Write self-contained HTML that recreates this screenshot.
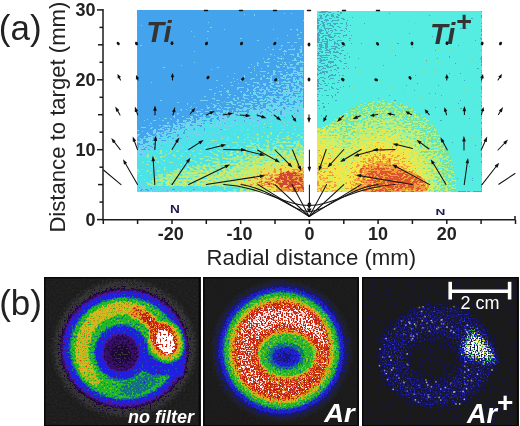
<!DOCTYPE html>
<html><head><meta charset="utf-8"><title>figure</title>
<style>html,body{margin:0;padding:0;background:#fff;} body{width:520px;height:426px;overflow:hidden;} svg{display:block}</style>
</head><body>
<svg width="520" height="426" viewBox="0 0 520 426">
<defs><filter id="fa" filterUnits="userSpaceOnUse" x="137" y="10.5" width="166.3" height="180.7" color-interpolation-filters="sRGB">
<feTurbulence type="fractalNoise" baseFrequency="0.3 0.55" numOctaves="1" seed="3" result="nz"/>
<feColorMatrix in="nz" type="matrix" values="1 0 0 0 0 1 0 0 0 0 1 0 0 0 0 0 0 0 0 1" result="n1"/>
<feComposite in="SourceGraphic" in2="n1" operator="arithmetic" k1="0.000" k2="1.000" k3="0.613" k4="-0.307" result="sum"/>
<feComponentTransfer in="sum"><feFuncR type="discrete" tableValues="0.267 0.267 0.267 0.267 0.267 0.267 0.267 0.267 0.267 0.267 0.267 0.267 0.267 0.267 0.267 0.267 0.267 0.267 0.267 0.267 0.463 0.463 0.463 0.463 0.463 0.463 0.463 0.463 0.463 0.463 0.298 0.298 0.298 0.298 0.298 0.298 0.298 0.298 0.298 0.298 0.298 0.298 0.298 0.298 0.298 0.298 0.298 0.298 0.298 0.298 0.588 0.588 0.588 0.588 0.588 0.588 0.588 0.588 0.588 0.588 0.804 0.804 0.804 0.804 0.804 0.804 0.804 0.804 0.804 0.804 0.949 0.949 0.949 0.949 0.949 0.949 0.949 0.949 0.949 0.949 0.925 0.925 0.925 0.925 0.925 0.925 0.925 0.925 0.925 0.925 0.816 0.816 0.816 0.816 0.816 0.816 0.816 0.816 0.816 0.816"/><feFuncG type="discrete" tableValues="0.643 0.643 0.643 0.643 0.643 0.643 0.643 0.643 0.643 0.643 0.643 0.643 0.643 0.643 0.643 0.643 0.643 0.643 0.643 0.643 0.831 0.831 0.831 0.831 0.831 0.831 0.831 0.831 0.831 0.831 0.894 0.894 0.894 0.894 0.894 0.894 0.894 0.894 0.894 0.894 0.894 0.894 0.894 0.894 0.894 0.894 0.894 0.894 0.894 0.894 0.933 0.933 0.933 0.933 0.933 0.933 0.933 0.933 0.933 0.933 0.925 0.925 0.925 0.925 0.925 0.925 0.925 0.925 0.925 0.925 0.871 0.871 0.871 0.871 0.871 0.871 0.871 0.871 0.871 0.871 0.596 0.596 0.596 0.596 0.596 0.596 0.596 0.596 0.596 0.596 0.282 0.282 0.282 0.282 0.282 0.282 0.282 0.282 0.282 0.282"/><feFuncB type="discrete" tableValues="0.933 0.933 0.933 0.933 0.933 0.933 0.933 0.933 0.933 0.933 0.933 0.933 0.933 0.933 0.933 0.933 0.933 0.933 0.933 0.933 0.941 0.941 0.941 0.941 0.941 0.941 0.941 0.941 0.941 0.941 0.910 0.910 0.910 0.910 0.910 0.910 0.910 0.910 0.910 0.910 0.910 0.910 0.910 0.910 0.910 0.910 0.910 0.910 0.910 0.910 0.647 0.647 0.647 0.647 0.647 0.647 0.647 0.647 0.647 0.647 0.412 0.412 0.412 0.412 0.412 0.412 0.412 0.412 0.412 0.412 0.306 0.306 0.306 0.306 0.306 0.306 0.306 0.306 0.306 0.306 0.235 0.235 0.235 0.235 0.235 0.235 0.235 0.235 0.235 0.235 0.216 0.216 0.216 0.216 0.216 0.216 0.216 0.216 0.216 0.216"/><feFuncA type="linear" slope="0" intercept="1"/></feComponentTransfer>
<feGaussianBlur stdDeviation="0.35"/>
</filter><filter id="fb" filterUnits="userSpaceOnUse" x="317.2" y="11" width="164.5" height="180.2" color-interpolation-filters="sRGB">
<feTurbulence type="fractalNoise" baseFrequency="0.35 0.6" numOctaves="1" seed="5" result="nz"/>
<feColorMatrix in="nz" type="matrix" values="1 0 0 0 0 1 0 0 0 0 1 0 0 0 0 0 0 0 0 1" result="n1"/>
<feComposite in="SourceGraphic" in2="n1" operator="arithmetic" k1="0.000" k2="1.000" k3="0.472" k4="-0.236" result="sum"/>
<feComponentTransfer in="sum"><feFuncR type="discrete" tableValues="0.267 0.267 0.267 0.267 0.267 0.267 0.267 0.267 0.267 0.267 0.267 0.267 0.267 0.267 0.267 0.267 0.267 0.267 0.275 0.275 0.275 0.275 0.275 0.275 0.275 0.275 0.275 0.275 0.337 0.337 0.337 0.337 0.337 0.337 0.337 0.337 0.337 0.337 0.337 0.337 0.337 0.337 0.337 0.337 0.337 0.337 0.337 0.337 0.337 0.337 0.337 0.337 0.490 0.490 0.490 0.490 0.667 0.667 0.667 0.667 0.667 0.667 0.667 0.824 0.824 0.824 0.824 0.824 0.824 0.824 0.961 0.961 0.961 0.961 0.961 0.961 0.961 0.961 0.961 0.961 0.941 0.941 0.941 0.941 0.941 0.941 0.941 0.941 0.941 0.941 0.871 0.871 0.871 0.871 0.871 0.871 0.871 0.871 0.871 0.871"/><feFuncG type="discrete" tableValues="0.643 0.643 0.643 0.643 0.643 0.643 0.643 0.643 0.643 0.643 0.643 0.643 0.643 0.643 0.643 0.643 0.643 0.643 0.659 0.659 0.659 0.659 0.659 0.659 0.659 0.659 0.659 0.659 0.929 0.929 0.929 0.929 0.929 0.929 0.929 0.929 0.929 0.929 0.929 0.929 0.929 0.929 0.929 0.929 0.929 0.929 0.929 0.929 0.929 0.929 0.929 0.929 0.871 0.871 0.871 0.871 0.941 0.941 0.941 0.941 0.941 0.941 0.941 0.941 0.941 0.941 0.941 0.941 0.941 0.941 0.902 0.902 0.902 0.902 0.902 0.902 0.902 0.902 0.902 0.902 0.627 0.627 0.627 0.627 0.627 0.627 0.627 0.627 0.627 0.627 0.333 0.333 0.333 0.333 0.333 0.333 0.333 0.333 0.333 0.333"/><feFuncB type="discrete" tableValues="0.933 0.933 0.933 0.933 0.933 0.933 0.933 0.933 0.933 0.933 0.933 0.933 0.933 0.933 0.933 0.933 0.933 0.933 0.765 0.765 0.765 0.765 0.765 0.765 0.765 0.765 0.765 0.765 0.886 0.886 0.886 0.886 0.886 0.886 0.886 0.886 0.886 0.886 0.886 0.886 0.886 0.886 0.886 0.886 0.886 0.886 0.886 0.886 0.886 0.886 0.886 0.886 0.529 0.529 0.529 0.529 0.549 0.549 0.549 0.549 0.549 0.549 0.549 0.392 0.392 0.392 0.392 0.392 0.392 0.392 0.275 0.275 0.275 0.275 0.275 0.275 0.275 0.275 0.275 0.275 0.227 0.227 0.227 0.227 0.227 0.227 0.227 0.227 0.227 0.227 0.188 0.188 0.188 0.188 0.188 0.188 0.188 0.188 0.188 0.188"/><feFuncA type="linear" slope="0" intercept="1"/></feComponentTransfer>
<feGaussianBlur stdDeviation="0.3"/>
</filter><radialGradient id="gL1" cx="50%" cy="50%" r="50%"><stop offset="0" stop-color="rgb(235,235,235)"/><stop offset="0.125" stop-color="rgb(219,219,219)"/><stop offset="0.21" stop-color="rgb(199,199,199)"/><stop offset="0.275" stop-color="rgb(168,168,168)"/><stop offset="0.4" stop-color="rgb(133,133,133)"/><stop offset="0.5" stop-color="rgb(115,115,115)"/><stop offset="0.6" stop-color="rgb(99,99,99)"/><stop offset="0.7" stop-color="rgb(82,82,82)"/><stop offset="0.76" stop-color="rgb(61,61,61)"/><stop offset="0.84" stop-color="rgb(31,31,31)"/><stop offset="1" stop-color="rgb(0,0,0)"/></radialGradient><radialGradient id="gL3" cx="50%" cy="50%" r="50%"><stop offset="0" stop-color="rgb(245,245,245)"/><stop offset="0.6" stop-color="rgb(232,232,232)"/><stop offset="1" stop-color="rgb(0,0,0)"/></radialGradient><radialGradient id="gL5" cx="50%" cy="50%" r="50%"><stop offset="0" stop-color="rgb(110,110,110)"/><stop offset="0.7" stop-color="rgb(105,105,105)"/><stop offset="1" stop-color="rgb(0,0,0)"/></radialGradient><radialGradient id="gL4" cx="50%" cy="50%" r="50%"><stop offset="0" stop-color="rgb(161,161,161)"/><stop offset="0.6" stop-color="rgb(148,148,148)"/><stop offset="0.85" stop-color="rgb(133,133,133)"/><stop offset="1" stop-color="rgb(0,0,0)"/></radialGradient><linearGradient id="gLd" gradientUnits="userSpaceOnUse" x1="225" y1="72" x2="272" y2="137"><stop offset="0" stop-color="rgb(10,10,10)"/><stop offset="0.2" stop-color="rgb(28,28,28)"/><stop offset="0.45" stop-color="rgb(43,43,43)"/><stop offset="0.7" stop-color="rgb(56,56,56)"/><stop offset="1" stop-color="rgb(74,74,74)"/></linearGradient><radialGradient id="gR1" cx="50%" cy="50%" r="50%"><stop offset="0" stop-color="rgb(235,235,235)"/><stop offset="0.15" stop-color="rgb(227,227,227)"/><stop offset="0.34" stop-color="rgb(207,207,207)"/><stop offset="0.5" stop-color="rgb(181,181,181)"/><stop offset="0.65" stop-color="rgb(158,158,158)"/><stop offset="0.825" stop-color="rgb(143,143,143)"/><stop offset="0.95" stop-color="rgb(136,136,136)"/><stop offset="1" stop-color="rgb(0,0,0)"/></radialGradient><radialGradient id="gR3" cx="50%" cy="50%" r="50%"><stop offset="0" stop-color="rgb(204,204,204)"/><stop offset="0.3" stop-color="rgb(191,191,191)"/><stop offset="0.55" stop-color="rgb(173,173,173)"/><stop offset="0.75" stop-color="rgb(150,150,150)"/><stop offset="0.9" stop-color="rgb(139,139,139)"/><stop offset="1" stop-color="rgb(0,0,0)"/></radialGradient><radialGradient id="gRs2" cx="50%" cy="50%" r="50%"><stop offset="0" stop-color="rgb(69,69,69)"/><stop offset="0.5" stop-color="rgb(79,79,79)"/><stop offset="0.8" stop-color="rgb(92,92,92)"/><stop offset="1" stop-color="rgb(107,107,107)"/></radialGradient><radialGradient id="gR2" cx="50%" cy="50%" r="50%"><stop offset="0" stop-color="rgb(242,242,242)"/><stop offset="0.5" stop-color="rgb(232,232,232)"/><stop offset="0.8" stop-color="rgb(217,217,217)"/><stop offset="1" stop-color="rgb(0,0,0)"/></radialGradient><linearGradient id="gLs" x1="0" x2="1" y1="0" y2="0"><stop offset="0" stop-color="rgb(69,69,69)"/><stop offset="0.55" stop-color="rgb(102,102,102)"/><stop offset="1" stop-color="rgb(255,255,255)"/></linearGradient><linearGradient id="gRs" x1="0" x2="1" y1="0" y2="1"><stop offset="0" stop-color="rgb(66,66,66)"/><stop offset="0.5" stop-color="rgb(92,92,92)"/><stop offset="1" stop-color="rgb(255,255,255)"/></linearGradient><filter id="fp1" filterUnits="userSpaceOnUse" x="44" y="277" width="156.2" height="149.5" color-interpolation-filters="sRGB">
<feGaussianBlur in="SourceGraphic" stdDeviation="1.0" result="bl"/><feTurbulence type="fractalNoise" baseFrequency="0.5 0.5" numOctaves="1" seed="11" result="nz"/>
<feColorMatrix in="nz" type="matrix" values="1 0 0 0 0 1 0 0 0 0 1 0 0 0 0 0 0 0 0 1" result="n1"/>
<feComposite in="bl" in2="n1" operator="arithmetic" k1="0.472" k2="0.764" k3="0.094" k4="-0.047" result="sum"/>
<feComponentTransfer in="sum"><feFuncR type="discrete" tableValues="0.106 0.106 0.114 0.125 0.125 0.141 0.161 0.161 0.184 0.208 0.208 0.224 0.125 0.125 0.125 0.125 0.216 0.216 0.216 0.216 0.216 0.275 0.275 0.275 0.275 0.275 0.275 0.125 0.125 0.125 0.125 0.125 0.125 0.125 0.125 0.098 0.098 0.098 0.078 0.078 0.078 0.078 0.078 0.078 0.078 0.078 0.137 0.137 0.137 0.137 0.137 0.137 0.137 0.137 0.137 0.137 0.510 0.510 0.510 0.510 0.510 0.831 0.831 0.831 0.831 0.831 0.831 0.831 0.831 0.831 0.894 0.894 0.894 0.894 0.894 0.894 0.843 0.843 0.843 0.686 0.686 0.686 0.686 0.843 0.843 0.843 0.843 0.843 0.941 0.941 0.941 0.941 1.000 1.000 1.000 1.000 1.000 1.000 1.000 1.000"/><feFuncG type="discrete" tableValues="0.106 0.106 0.114 0.125 0.125 0.141 0.161 0.161 0.184 0.208 0.208 0.224 0.031 0.031 0.031 0.031 0.059 0.059 0.059 0.059 0.059 0.098 0.098 0.098 0.098 0.098 0.098 0.125 0.125 0.125 0.125 0.125 0.125 0.125 0.125 0.314 0.314 0.314 0.451 0.451 0.451 0.451 0.451 0.451 0.451 0.451 0.725 0.725 0.725 0.725 0.725 0.725 0.725 0.725 0.725 0.725 0.765 0.765 0.765 0.765 0.765 0.714 0.714 0.714 0.714 0.714 0.714 0.714 0.714 0.714 0.510 0.510 0.510 0.510 0.510 0.510 0.235 0.235 0.235 0.125 0.125 0.125 0.125 0.176 0.176 0.176 0.176 0.176 0.765 0.765 0.765 0.765 1.000 1.000 1.000 1.000 1.000 1.000 1.000 1.000"/><feFuncB type="discrete" tableValues="0.106 0.106 0.114 0.125 0.125 0.141 0.161 0.161 0.184 0.208 0.208 0.224 0.227 0.227 0.227 0.227 0.412 0.412 0.412 0.412 0.412 0.608 0.608 0.608 0.608 0.608 0.608 0.882 0.882 0.882 0.882 0.882 0.882 0.882 0.882 0.667 0.667 0.667 0.502 0.502 0.502 0.502 0.502 0.502 0.502 0.502 0.157 0.157 0.157 0.157 0.157 0.157 0.157 0.157 0.157 0.157 0.118 0.118 0.118 0.118 0.118 0.137 0.137 0.137 0.137 0.137 0.137 0.137 0.137 0.137 0.098 0.098 0.098 0.098 0.098 0.098 0.098 0.098 0.098 0.086 0.086 0.086 0.086 0.098 0.098 0.098 0.098 0.098 0.765 0.765 0.765 0.765 1.000 1.000 1.000 1.000 1.000 1.000 1.000 1.000"/><feFuncA type="linear" slope="0" intercept="1"/></feComponentTransfer>
<feGaussianBlur stdDeviation="0.6"/>
</filter><filter id="fp2" filterUnits="userSpaceOnUse" x="203.2" y="277" width="155.6" height="149.5" color-interpolation-filters="sRGB">
<feGaussianBlur in="SourceGraphic" stdDeviation="1.2" result="bl"/><feTurbulence type="fractalNoise" baseFrequency="0.6 0.6" numOctaves="1" seed="13" result="nz"/>
<feColorMatrix in="nz" type="matrix" values="1 0 0 0 0 1 0 0 0 0 1 0 0 0 0 0 0 0 0 1" result="n1"/>
<feComposite in="bl" in2="n1" operator="arithmetic" k1="0.613" k2="0.693" k3="0.113" k4="-0.057" result="sum"/>
<feComponentTransfer in="sum"><feFuncR type="discrete" tableValues="0.106 0.106 0.106 0.106 0.106 0.125 0.125 0.125 0.118 0.118 0.118 0.118 0.118 0.118 0.098 0.098 0.098 0.098 0.098 0.098 0.098 0.098 0.125 0.125 0.125 0.125 0.125 0.125 0.125 0.125 0.125 0.125 0.098 0.098 0.098 0.098 0.098 0.078 0.078 0.078 0.078 0.078 0.078 0.078 0.078 0.157 0.157 0.157 0.157 0.157 0.157 0.157 0.157 0.157 0.157 0.157 0.510 0.510 0.510 0.510 0.510 0.510 0.831 0.831 0.831 0.831 0.831 0.831 0.831 0.831 0.894 0.894 0.894 0.894 0.894 0.894 0.843 0.843 0.843 0.686 0.686 0.686 0.686 0.843 0.843 0.843 0.843 0.843 0.941 0.941 0.941 0.941 1.000 1.000 1.000 1.000 1.000 1.000 1.000 1.000"/><feFuncG type="discrete" tableValues="0.106 0.106 0.106 0.106 0.106 0.125 0.125 0.125 0.118 0.118 0.118 0.118 0.118 0.118 0.098 0.098 0.098 0.098 0.098 0.098 0.098 0.098 0.125 0.125 0.125 0.125 0.125 0.125 0.125 0.125 0.125 0.125 0.314 0.314 0.314 0.314 0.314 0.471 0.471 0.471 0.471 0.471 0.471 0.471 0.471 0.706 0.706 0.706 0.706 0.706 0.706 0.706 0.706 0.706 0.706 0.706 0.765 0.765 0.765 0.765 0.765 0.765 0.714 0.714 0.714 0.714 0.714 0.714 0.714 0.714 0.510 0.510 0.510 0.510 0.510 0.510 0.235 0.235 0.235 0.125 0.125 0.125 0.125 0.176 0.176 0.176 0.176 0.176 0.765 0.765 0.765 0.765 1.000 1.000 1.000 1.000 1.000 1.000 1.000 1.000"/><feFuncB type="discrete" tableValues="0.106 0.106 0.106 0.106 0.106 0.125 0.125 0.125 0.243 0.243 0.243 0.243 0.243 0.243 0.490 0.490 0.490 0.490 0.490 0.490 0.490 0.490 0.804 0.804 0.804 0.804 0.804 0.804 0.804 0.804 0.804 0.804 0.667 0.667 0.667 0.667 0.667 0.490 0.490 0.490 0.490 0.490 0.490 0.490 0.490 0.176 0.176 0.176 0.176 0.176 0.176 0.176 0.176 0.176 0.176 0.176 0.118 0.118 0.118 0.118 0.118 0.118 0.137 0.137 0.137 0.137 0.137 0.137 0.137 0.137 0.098 0.098 0.098 0.098 0.098 0.098 0.098 0.098 0.098 0.086 0.086 0.086 0.086 0.098 0.098 0.098 0.098 0.098 0.765 0.765 0.765 0.765 1.000 1.000 1.000 1.000 1.000 1.000 1.000 1.000"/><feFuncA type="linear" slope="0" intercept="1"/></feComponentTransfer>
<feGaussianBlur stdDeviation="0.5"/>
</filter><filter id="fp3" filterUnits="userSpaceOnUse" x="362" y="277" width="156.3" height="149.5" color-interpolation-filters="sRGB">
<feGaussianBlur in="SourceGraphic" stdDeviation="0.5" result="bl"/><feTurbulence type="fractalNoise" baseFrequency="0.7 0.7" numOctaves="1" seed="17" result="nz"/>
<feColorMatrix in="nz" type="matrix" values="1 0 0 0 0 1 0 0 0 0 1 0 0 0 0 0 0 0 0 1" result="n1"/>
<feComposite in="bl" in2="n1" operator="arithmetic" k1="4.717" k2="-1.358" k3="0.113" k4="-0.057" result="sum"/>
<feComponentTransfer in="sum"><feFuncR type="discrete" tableValues="0.102 0.102 0.102 0.102 0.102 0.102 0.102 0.102 0.078 0.078 0.078 0.078 0.078 0.078 0.078 0.098 0.098 0.098 0.098 0.098 0.098 0.098 0.098 0.149 0.149 0.149 0.149 0.149 0.149 0.149 0.216 0.216 0.216 0.216 0.216 0.216 0.216 0.216 0.157 0.157 0.157 0.157 0.157 0.157 0.157 0.157 0.157 0.157 0.745 0.745 0.745 0.745 0.745 0.745 0.745 0.745 0.745 0.745 0.745 0.745 0.843 0.843 0.843 0.843 0.843 0.843 0.843 0.843 0.843 0.843 0.843 0.843 0.843 0.843 0.843 0.843 0.843 0.843 0.843 0.843 1.000 1.000 1.000 1.000 1.000 1.000 1.000 1.000 1.000 1.000 1.000 1.000 1.000 1.000 1.000 1.000 1.000 1.000 1.000 1.000"/><feFuncG type="discrete" tableValues="0.102 0.102 0.102 0.102 0.102 0.102 0.102 0.102 0.078 0.078 0.078 0.078 0.078 0.078 0.078 0.098 0.098 0.098 0.098 0.098 0.098 0.098 0.098 0.149 0.149 0.149 0.149 0.149 0.149 0.149 0.216 0.216 0.216 0.216 0.216 0.216 0.216 0.216 0.627 0.627 0.627 0.627 0.627 0.627 0.627 0.627 0.627 0.627 0.804 0.804 0.804 0.804 0.804 0.804 0.804 0.804 0.804 0.804 0.804 0.804 0.843 0.843 0.843 0.843 0.843 0.843 0.843 0.843 0.843 0.843 0.843 0.843 0.843 0.843 0.843 0.843 0.843 0.843 0.843 0.843 1.000 1.000 1.000 1.000 1.000 1.000 1.000 1.000 1.000 1.000 1.000 1.000 1.000 1.000 1.000 1.000 1.000 1.000 1.000 1.000"/><feFuncB type="discrete" tableValues="0.102 0.102 0.102 0.102 0.102 0.102 0.102 0.102 0.282 0.282 0.282 0.282 0.282 0.282 0.282 0.463 0.463 0.463 0.463 0.463 0.463 0.463 0.463 0.706 0.706 0.706 0.706 0.706 0.706 0.706 0.843 0.843 0.843 0.843 0.843 0.843 0.843 0.843 0.275 0.275 0.275 0.275 0.275 0.275 0.275 0.275 0.275 0.275 0.235 0.235 0.235 0.235 0.235 0.235 0.235 0.235 0.235 0.235 0.235 0.235 0.922 0.922 0.922 0.922 0.922 0.922 0.922 0.922 0.922 0.922 0.922 0.922 0.922 0.922 0.922 0.922 0.922 0.922 0.922 0.922 1.000 1.000 1.000 1.000 1.000 1.000 1.000 1.000 1.000 1.000 1.000 1.000 1.000 1.000 1.000 1.000 1.000 1.000 1.000 1.000"/><feFuncA type="linear" slope="0" intercept="1"/></feComponentTransfer>
<feGaussianBlur stdDeviation="0.45"/>
</filter><filter id="bl3" x="-20%" y="-20%" width="140%" height="140%"><feGaussianBlur stdDeviation="3"/></filter><filter id="bl05" x="-50%" y="-50%" width="200%" height="200%"><feGaussianBlur stdDeviation="0.35"/></filter></defs>
<rect width="520" height="426" fill="#fff"/>
<g filter="url(#fa)">
<rect x="137" y="10.5" width="166.3" height="180.7" fill="rgb(8,8,8)"/>
<rect x="137" y="10.5" width="166.3" height="180.7" fill="url(#gLd)" style="mix-blend-mode:lighten"/>
<ellipse cx="303" cy="193" rx="250" ry="112" fill="url(#gL1)" style="mix-blend-mode:lighten"/>
<ellipse cx="222" cy="190" rx="88" ry="30" fill="url(#gL4)" style="mix-blend-mode:lighten"/>
<ellipse cx="170" cy="170" rx="48" ry="30" fill="url(#gL5)" style="mix-blend-mode:lighten"/>
<ellipse cx="289" cy="179" rx="22" ry="12" fill="url(#gL3)" style="mix-blend-mode:lighten"/>
<rect x="137" y="186.5" width="166.3" height="5" fill="url(#gLs)" style="mix-blend-mode:darken"/>
</g><g filter="url(#fb)">
<rect x="317.2" y="11" width="164.5" height="180.2" fill="rgb(102,102,102)"/>
<ellipse cx="382" cy="193" rx="78" ry="97" fill="url(#gR1)" style="mix-blend-mode:lighten"/>
<ellipse cx="317" cy="193" rx="60" ry="97" fill="url(#gR3)" style="mix-blend-mode:lighten"/>
<ellipse cx="394" cy="179" rx="44" ry="15" transform="rotate(14 394 179)" fill="url(#gR2)" style="mix-blend-mode:lighten"/>
<ellipse cx="317" cy="40" rx="42" ry="88" fill="url(#gRs2)" style="mix-blend-mode:darken"/>
</g><g stroke="#111" stroke-width="1.05" fill="#111" stroke-linecap="round"><ellipse cx="118.2" cy="43.5" rx="1.9" ry="1.4" transform="rotate(-127 118.2 43.5)" stroke="none"/><ellipse cx="136.5" cy="43.5" rx="1.9" ry="1.4" transform="rotate(-117 136.5 43.5)" stroke="none"/><ellipse cx="172.0" cy="43.2" rx="1.9" ry="1.4" transform="rotate(-90 172.0 43.2)" stroke="none"/><ellipse cx="206.5" cy="43.5" rx="1.9" ry="1.4" transform="rotate(-63 206.5 43.5)" stroke="none"/><ellipse cx="241.5" cy="43.5" rx="1.9" ry="1.4" transform="rotate(-63 241.5 43.5)" stroke="none"/><ellipse cx="274.8" cy="43.5" rx="1.9" ry="1.4" transform="rotate(-53 274.8 43.5)" stroke="none"/><ellipse cx="309.0" cy="44.5" rx="1.9" ry="1.4" transform="rotate(-90 309.0 44.5)" stroke="none"/><ellipse cx="343.2" cy="43.8" rx="1.9" ry="1.4" transform="rotate(-135 343.2 43.8)" stroke="none"/><ellipse cx="377.5" cy="43.8" rx="1.9" ry="1.4" transform="rotate(-124 377.5 43.8)" stroke="none"/><ellipse cx="412.0" cy="43.5" rx="1.9" ry="1.4" transform="rotate(-90 412.0 43.5)" stroke="none"/><ellipse cx="447.0" cy="43.2" rx="1.9" ry="1.4" transform="rotate(-90 447.0 43.2)" stroke="none"/><ellipse cx="482.2" cy="43.5" rx="1.9" ry="1.4" transform="rotate(-76 482.2 43.5)" stroke="none"/><ellipse cx="500.5" cy="43.5" rx="1.9" ry="1.4" transform="rotate(-63 500.5 43.5)" stroke="none"/><line x1="120.5" y1="80.0" x2="118.8" y2="76.7"/><path d="M117.5,74.0 L120.9,76.8 Q119.6,78.3 117.7,78.4 Z" stroke="none"/><line x1="138.0" y1="80.0" x2="137.1" y2="77.8"/><path d="M136.0,75.0 L139.1,78.1 Q137.8,79.5 135.9,79.4 Z" stroke="none"/><line x1="172.5" y1="80.0" x2="172.5" y2="76.0"/><path d="M172.5,73.0 L174.2,77.0 Q172.5,77.8 170.8,77.0 Z" stroke="none"/><ellipse cx="208.0" cy="77.5" rx="1.9" ry="1.4" transform="rotate(-56 208.0 77.5)" stroke="none"/><ellipse cx="242.8" cy="79.0" rx="1.9" ry="1.4" transform="rotate(-53 242.8 79.0)" stroke="none"/><ellipse cx="275.8" cy="79.8" rx="1.9" ry="1.4" transform="rotate(-45 275.8 79.8)" stroke="none"/><ellipse cx="309.0" cy="79.5" rx="1.9" ry="1.4" transform="rotate(90 309.0 79.5)" stroke="none"/><ellipse cx="342.8" cy="79.5" rx="1.9" ry="1.4" transform="rotate(-146 342.8 79.5)" stroke="none"/><ellipse cx="376.2" cy="79.8" rx="1.9" ry="1.4" transform="rotate(-162 376.2 79.8)" stroke="none"/><ellipse cx="410.0" cy="77.8" rx="1.9" ry="1.4" transform="rotate(-124 410.0 77.8)" stroke="none"/><line x1="446.8" y1="80.0" x2="446.8" y2="77.0"/><path d="M446.8,74.0 L448.6,78.0 Q446.8,78.8 445.1,78.0 Z" stroke="none"/><line x1="481.5" y1="80.0" x2="482.3" y2="76.9"/><path d="M483.0,74.0 L483.7,78.3 Q481.8,78.7 480.3,77.5 Z" stroke="none"/><line x1="498.0" y1="80.0" x2="500.3" y2="76.5"/><path d="M502.0,74.0 L501.2,78.3 Q499.3,78.0 498.3,76.4 Z" stroke="none"/><line x1="120.0" y1="115.0" x2="117.2" y2="110.1"/><path d="M115.2,106.6 L119.2,110.1 Q118.1,111.6 116.2,111.8 Z" stroke="none"/><line x1="137.7" y1="115.0" x2="136.2" y2="110.4"/><path d="M134.9,106.6 L138.1,110.8 Q136.7,112.1 134.8,111.9 Z" stroke="none"/><line x1="155.0" y1="115.0" x2="155.0" y2="109.6"/><path d="M155.0,105.6 L156.8,110.6 Q155.0,111.4 153.2,110.6 Z" stroke="none"/><line x1="173.0" y1="115.0" x2="174.0" y2="110.9"/><path d="M175.0,107.0 L175.5,112.3 Q173.6,112.6 172.1,111.4 Z" stroke="none"/><line x1="190.0" y1="114.0" x2="193.2" y2="110.3"/><path d="M195.2,108.0 L193.9,112.2 Q192.1,111.6 191.3,109.9 Z" stroke="none"/><line x1="206.3" y1="115.0" x2="211.2" y2="112.6"/><path d="M214.8,110.9 L211.1,114.6 Q209.6,113.4 209.5,111.5 Z" stroke="none"/><line x1="223.0" y1="115.0" x2="229.5" y2="113.8"/><path d="M233.4,113.0 L228.8,115.7 Q227.7,114.1 228.2,112.2 Z" stroke="none"/><line x1="240.0" y1="115.0" x2="246.8" y2="115.6"/><path d="M250.8,116.0 L245.7,117.3 Q245.0,115.5 246.0,113.8 Z" stroke="none"/><line x1="257.0" y1="115.0" x2="262.8" y2="117.0"/><path d="M266.6,118.3 L261.3,118.3 Q261.1,116.4 262.4,115.0 Z" stroke="none"/><line x1="274.0" y1="115.0" x2="278.3" y2="118.3"/><path d="M281.4,120.8 L276.4,119.1 Q276.8,117.2 278.5,116.3 Z" stroke="none"/><line x1="292.0" y1="115.7" x2="294.6" y2="119.5"/><path d="M296.3,122.0 L292.6,119.7 Q293.6,118.0 295.5,117.7 Z" stroke="none"/><line x1="309.0" y1="114.7" x2="309.0" y2="119.0"/><path d="M309.0,123.0 L307.2,118.0 Q309.0,117.2 310.8,118.0 Z" stroke="none"/><line x1="326.4" y1="115.8" x2="324.6" y2="119.3"/><path d="M323.3,122.0 L323.5,117.6 Q325.4,117.7 326.7,119.2 Z" stroke="none"/><line x1="343.4" y1="115.8" x2="339.9" y2="119.2"/><path d="M337.0,122.0 L339.4,117.3 Q341.2,118.0 341.8,119.8 Z" stroke="none"/><line x1="360.3" y1="115.8" x2="356.2" y2="117.5"/><path d="M352.5,119.0 L356.5,115.5 Q357.9,116.8 357.8,118.7 Z" stroke="none"/><line x1="377.7" y1="114.5" x2="373.0" y2="115.3"/><path d="M370.0,115.8 L373.7,113.4 Q374.7,115.0 374.2,116.9 Z" stroke="none"/><line x1="394.6" y1="115.0" x2="389.9" y2="113.9"/><path d="M387.0,113.2 L391.3,112.4 Q391.7,114.3 390.5,115.8 Z" stroke="none"/><line x1="411.5" y1="114.7" x2="408.0" y2="112.7"/><path d="M405.4,111.2 L409.7,111.7 Q409.6,113.6 408.0,114.7 Z" stroke="none"/><line x1="429.2" y1="114.7" x2="426.5" y2="111.5"/><path d="M424.6,109.2 L428.5,111.1 Q427.7,112.9 425.8,113.4 Z" stroke="none"/><line x1="446.5" y1="114.7" x2="445.3" y2="110.2"/><path d="M444.5,107.3 L447.2,110.7 Q445.8,111.9 443.9,111.6 Z" stroke="none"/><line x1="464.4" y1="114.5" x2="464.4" y2="110.0"/><path d="M464.4,106.0 L466.1,111.0 Q464.4,111.8 462.6,111.0 Z" stroke="none"/><line x1="481.5" y1="114.5" x2="482.7" y2="109.9"/><path d="M483.5,107.0 L484.2,111.3 Q482.3,111.6 480.8,110.4 Z" stroke="none"/><line x1="498.5" y1="114.5" x2="500.9" y2="110.4"/><path d="M503.0,107.0 L501.9,112.2 Q500.0,112.0 498.9,110.4 Z" stroke="none"/><line x1="120.2" y1="149.6" x2="113.7" y2="141.2"/><path d="M111.2,138.0 L115.6,140.9 Q114.8,142.6 112.9,143.0 Z" stroke="none"/><line x1="137.5" y1="149.6" x2="134.1" y2="140.3"/><path d="M132.7,136.5 L136.1,140.6 Q134.7,141.9 132.8,141.8 Z" stroke="none"/><line x1="154.8" y1="149.6" x2="155.5" y2="139.6"/><path d="M155.8,135.6 L157.2,140.7 Q155.4,141.4 153.7,140.5 Z" stroke="none"/><line x1="172.0" y1="149.6" x2="177.2" y2="140.9"/><path d="M179.2,137.5 L178.1,142.7 Q176.2,142.5 175.1,140.9 Z" stroke="none"/><line x1="188.7" y1="149.5" x2="200.3" y2="142.1"/><path d="M203.7,140.0 L200.4,144.2 Q198.8,143.1 198.5,141.2 Z" stroke="none"/><line x1="206.2" y1="149.5" x2="222.3" y2="145.5"/><path d="M226.2,144.5 L221.8,147.4 Q220.6,145.9 220.9,144.0 Z" stroke="none"/><line x1="223.7" y1="149.5" x2="242.2" y2="149.9"/><path d="M246.2,150.0 L241.2,151.6 Q240.4,149.9 241.2,148.1 Z" stroke="none"/><line x1="241.2" y1="149.5" x2="261.1" y2="154.5"/><path d="M265.0,155.5 L259.7,156.0 Q259.4,154.1 260.6,152.6 Z" stroke="none"/><line x1="257.5" y1="150.0" x2="276.5" y2="160.6"/><path d="M280.0,162.5 L274.8,161.6 Q274.9,159.7 276.5,158.5 Z" stroke="none"/><line x1="275.0" y1="150.0" x2="289.7" y2="164.7"/><path d="M292.5,167.5 L287.7,165.2 Q288.4,163.4 290.2,162.7 Z" stroke="none"/><line x1="292.5" y1="150.0" x2="299.7" y2="167.5"/><path d="M301.2,171.2 L297.7,167.2 Q299.0,165.8 300.9,165.9 Z" stroke="none"/><line x1="309.4" y1="150.0" x2="309.4" y2="168.0"/><path d="M309.4,172.0 L307.6,167.0 Q309.4,166.2 311.1,167.0 Z" stroke="none"/><line x1="326.2" y1="149.5" x2="320.0" y2="167.4"/><path d="M318.7,171.2 L318.7,165.9 Q320.6,165.7 322.0,167.0 Z" stroke="none"/><line x1="343.8" y1="149.5" x2="330.2" y2="164.5"/><path d="M327.5,167.5 L329.6,162.6 Q331.4,163.2 332.2,165.0 Z" stroke="none"/><line x1="361.2" y1="149.5" x2="343.4" y2="160.0"/><path d="M340.0,162.0 L343.4,158.0 Q345.0,159.1 345.2,161.0 Z" stroke="none"/><line x1="377.5" y1="149.5" x2="357.6" y2="155.1"/><path d="M353.7,156.2 L358.0,153.2 Q359.3,154.6 359.0,156.5 Z" stroke="none"/><line x1="395.0" y1="149.5" x2="376.5" y2="149.9"/><path d="M372.5,150.0 L377.5,148.1 Q378.3,149.9 377.5,151.6 Z" stroke="none"/><line x1="412.5" y1="148.5" x2="396.4" y2="144.6"/><path d="M392.5,143.7 L397.8,143.2 Q398.1,145.1 397.0,146.6 Z" stroke="none"/><line x1="429.0" y1="149.0" x2="419.7" y2="142.2"/><path d="M416.5,139.8 L421.6,141.4 Q421.2,143.2 419.5,144.2 Z" stroke="none"/><line x1="447.3" y1="150.0" x2="442.3" y2="140.8"/><path d="M440.4,137.3 L444.3,140.9 Q443.2,142.4 441.2,142.5 Z" stroke="none"/><line x1="464.0" y1="150.0" x2="464.0" y2="140.2"/><path d="M464.0,136.2 L465.8,141.2 Q464.0,142.0 462.2,141.2 Z" stroke="none"/><line x1="481.2" y1="150.0" x2="485.6" y2="140.3"/><path d="M487.2,136.6 L486.8,141.9 Q484.8,141.9 483.6,140.4 Z" stroke="none"/><line x1="498.0" y1="150.0" x2="505.2" y2="142.5"/><path d="M508.0,139.6 L505.8,144.4 Q504.0,143.8 503.3,142.0 Z" stroke="none"/><line x1="137.5" y1="184.6" x2="125.0" y2="162.7"/><path d="M123.0,159.2 L127.0,162.7 Q125.9,164.2 124.0,164.4 Z" stroke="none"/><line x1="154.8" y1="184.6" x2="153.2" y2="159.8"/><path d="M152.9,155.8 L155.0,160.7 Q153.3,161.6 151.5,160.9 Z" stroke="none"/><line x1="172.0" y1="184.6" x2="188.1" y2="161.0"/><path d="M190.4,157.7 L189.0,162.8 Q187.1,162.5 186.1,160.8 Z" stroke="none"/><line x1="188.7" y1="184.5" x2="226.4" y2="166.2"/><path d="M230.0,164.5 L226.3,168.3 Q224.8,167.0 224.7,165.1 Z" stroke="none"/><line x1="206.2" y1="184.5" x2="261.0" y2="176.1"/><path d="M265.0,175.5 L260.3,178.0 Q259.3,176.4 259.8,174.5 Z" stroke="none"/><line x1="309.4" y1="185.0" x2="309.4" y2="204.0"/><path d="M309.4,208.0 L307.6,203.0 Q309.4,202.2 311.1,203.0 Z" stroke="none"/><line x1="412.3" y1="184.6" x2="359.9" y2="175.7"/><path d="M356.0,175.0 L361.2,174.1 Q361.7,176.0 360.6,177.6 Z" stroke="none"/><line x1="429.7" y1="184.6" x2="395.5" y2="166.3"/><path d="M392.0,164.4 L397.2,165.2 Q397.1,167.1 395.6,168.3 Z" stroke="none"/><line x1="446.0" y1="184.6" x2="432.8" y2="162.6"/><path d="M430.7,159.2 L434.8,162.6 Q433.7,164.2 431.8,164.4 Z" stroke="none"/><line x1="464.2" y1="184.6" x2="467.4" y2="162.0"/><path d="M468.0,158.0 L469.0,163.2 Q467.2,163.7 465.6,162.7 Z" stroke="none"/><line x1="482.0" y1="184.6" x2="496.7" y2="165.8"/><path d="M499.2,162.7 L497.5,167.7 Q495.6,167.3 494.7,165.6 Z" stroke="none"/><line x1="121" y1="184.6" x2="103.5" y2="170"/><line x1="498.8" y1="184.2" x2="515" y2="173.5"/><line x1="258" y1="184.6" x2="309.2" y2="216.5"/><line x1="275" y1="184.6" x2="309.2" y2="216.5"/><line x1="292" y1="184.6" x2="309.2" y2="216.5"/><line x1="326.6" y1="184.6" x2="309.2" y2="216.5"/><line x1="343.8" y1="184.6" x2="309.2" y2="216.5"/><line x1="361" y1="184.6" x2="309.2" y2="216.5"/><path d="M223.7,184.6 C262,187 285,205.5 309.2,205.5 C333,205.5 356,187 395,184.6" fill="none"/><path d="M241,184.6 C272,189 292,211.5 309.2,211.5 C326,211.5 346,189 378,184.6" fill="none"/><path d="M309.2,209 L306.8,204.5 L311.6,204.5 Z" stroke="none"/><path d="M309.2,213 L306.8,208.5 L311.6,208.5 Z" stroke="none"/><line x1="204.5" y1="10.5" x2="207.5" y2="10.5" stroke-width="1.5"/><line x1="239.5" y1="10.5" x2="242.5" y2="10.5" stroke-width="1.5"/><line x1="273.5" y1="10.5" x2="276.5" y2="10.5" stroke-width="1.5"/><line x1="307.5" y1="10.5" x2="310.5" y2="10.5" stroke-width="1.5"/><line x1="342.5" y1="10.5" x2="345.5" y2="10.5" stroke-width="1.5"/><line x1="376.5" y1="10.5" x2="379.5" y2="10.5" stroke-width="1.5"/></g><g stroke="#1a1a1a" stroke-width="1.5"><line x1="103" y1="9" x2="103" y2="220"/><line x1="102.3" y1="219.8" x2="515.5" y2="219.8"/><line x1="97" y1="219.6" x2="103" y2="219.6"/><line x1="99.5" y1="202.1" x2="103" y2="202.1"/><line x1="98" y1="184.6" x2="103" y2="184.6"/><line x1="99.5" y1="167.2" x2="103" y2="167.2"/><line x1="97" y1="149.7" x2="103" y2="149.7"/><line x1="99.5" y1="132.2" x2="103" y2="132.2"/><line x1="98" y1="114.7" x2="103" y2="114.7"/><line x1="99.5" y1="97.3" x2="103" y2="97.3"/><line x1="97" y1="79.8" x2="103" y2="79.8"/><line x1="99.5" y1="62.3" x2="103" y2="62.3"/><line x1="98" y1="44.8" x2="103" y2="44.8"/><line x1="99.5" y1="27.4" x2="103" y2="27.4"/><line x1="97" y1="9.9" x2="103" y2="9.9"/><line x1="103.3" y1="219.8" x2="103.3" y2="224"/><line x1="137.6" y1="219.8" x2="137.6" y2="224"/><line x1="172.0" y1="219.8" x2="172.0" y2="224"/><line x1="206.3" y1="219.8" x2="206.3" y2="224"/><line x1="240.7" y1="219.8" x2="240.7" y2="224"/><line x1="275.0" y1="219.8" x2="275.0" y2="224"/><line x1="309.4" y1="219.8" x2="309.4" y2="224"/><line x1="343.8" y1="219.8" x2="343.8" y2="224"/><line x1="378.1" y1="219.8" x2="378.1" y2="224"/><line x1="412.4" y1="219.8" x2="412.4" y2="224"/><line x1="446.8" y1="219.8" x2="446.8" y2="224"/><line x1="481.1" y1="219.8" x2="481.1" y2="224"/><line x1="515.5" y1="219.8" x2="515.5" y2="224"/><line x1="515" y1="219.8" x2="515" y2="216"/></g><text x="95.6" y="16.4" text-anchor="end" style="font-family:'Liberation Sans',sans-serif;font-weight:bold;font-size:18px" fill="#222">30</text><text x="95.6" y="86.3" text-anchor="end" style="font-family:'Liberation Sans',sans-serif;font-weight:bold;font-size:18px" fill="#222">20</text><text x="95.6" y="156.2" text-anchor="end" style="font-family:'Liberation Sans',sans-serif;font-weight:bold;font-size:18px" fill="#222">10</text><text x="95.6" y="226.1" text-anchor="end" style="font-family:'Liberation Sans',sans-serif;font-weight:bold;font-size:18px" fill="#222">0</text><text x="170.8" y="239.6" text-anchor="middle" style="font-family:'Liberation Sans',sans-serif;font-weight:bold;font-size:18px" fill="#222">-20</text><text x="239.5" y="239.6" text-anchor="middle" style="font-family:'Liberation Sans',sans-serif;font-weight:bold;font-size:18px" fill="#222">-10</text><text x="309.4" y="239.6" text-anchor="middle" style="font-family:'Liberation Sans',sans-serif;font-weight:bold;font-size:18px" fill="#222">0</text><text x="378.1" y="239.6" text-anchor="middle" style="font-family:'Liberation Sans',sans-serif;font-weight:bold;font-size:18px" fill="#222">10</text><text x="446.8" y="239.6" text-anchor="middle" style="font-family:'Liberation Sans',sans-serif;font-weight:bold;font-size:18px" fill="#222">20</text><text x="206.6" y="265.4" style="font-family:'Liberation Sans',sans-serif;font-size:22px" fill="#222" textLength="209.5" lengthAdjust="spacingAndGlyphs">Radial distance (mm)</text><text transform="translate(65.1,232.6) rotate(-90)" style="font-family:'Liberation Sans',sans-serif;font-size:22px" fill="#222" textLength="231" lengthAdjust="spacingAndGlyphs">Distance to target (mm)</text><text x="-1.2" y="40" style="font-family:'Liberation Sans',sans-serif;font-size:35px" fill="#222">(a)</text><text x="-0.8" y="314.6" style="font-family:'Liberation Sans',sans-serif;font-size:35px" fill="#222">(b)</text><text x="146.2" y="41.7" style="font-family:'Liberation Sans',sans-serif;font-size:29px;font-weight:bold;font-style:italic" fill="#333">Ti</text><text x="430" y="43.5" style="font-family:'Liberation Sans',sans-serif;font-size:29px;font-weight:bold;font-style:italic" fill="#333">Ti</text><text x="456.3" y="31" style="font-family:'Liberation Sans',sans-serif;font-size:27px;font-weight:bold" fill="#333">+</text><text transform="translate(174.8,212.5) scale(1.3,0.98)" text-anchor="middle" style="font-family:'Liberation Sans',sans-serif;font-size:10.5px;font-weight:bold" fill="#1c1c50">N</text><text transform="translate(440.3,214.9) scale(1.3,0.92)" text-anchor="middle" style="font-family:'Liberation Sans',sans-serif;font-size:10.5px;font-weight:bold" fill="#1c1c50">N</text><g filter="url(#fp1)">
<rect x="44" y="277" width="156.2" height="149.5" fill="rgb(8,8,8)"/>
<ellipse cx="124.4" cy="348.3" rx="72" ry="69" fill="rgb(20,20,20)" filter="url(#bl3)"/>
<ellipse cx="124.4" cy="348.3" rx="68" ry="65" fill="rgb(26,26,26)" filter="url(#bl3)"/>
<ellipse cx="124.4" cy="348.3" rx="63.3" ry="59" fill="rgb(56,56,56)"/>
<ellipse cx="124.4" cy="348.3" rx="60.5" ry="56.3" fill="rgb(79,79,79)"/>
<ellipse cx="124.4" cy="348.3" rx="54.5" ry="50.8" fill="rgb(128,128,128)"/>
<path d="M159.2,360.7 A38,37 0 0 1 120.7,390.0" fill="none" stroke="rgb(107,107,107)" stroke-width="15" filter="url(#bl3)"/>
<path d="M91.6,377.0 A41,42 0 0 1 143.5,313.6" fill="none" stroke="rgb(164,164,164)" stroke-width="13"/>
<path d="M95.6,381.2 A41,42 0 0 1 90.7,375.9" fill="none" stroke="rgb(153,153,153)" stroke-width="10" stroke-linecap="round"/>
<path d="M131.2,310.9 A39.5,41 0 0 1 152.4,323.6" fill="none" stroke="rgb(189,189,189)" stroke-width="12"/>
<path d="M142.8,315.5 A39.5,41 0 0 1 157.2,330.5" fill="none" stroke="rgb(204,204,204)" stroke-width="11"/>
<polygon points="138,348 152,356 186,360 183,377 150,374 135,366" fill="rgb(79,79,79)"/>
<ellipse cx="165" cy="341" rx="19" ry="23" transform="rotate(-25 165 341)" fill="rgb(128,128,128)" style="mix-blend-mode:lighten"/>
<ellipse cx="165" cy="341" rx="16" ry="20" transform="rotate(-25 165 341)" fill="rgb(164,164,164)" style="mix-blend-mode:lighten"/>
<ellipse cx="164" cy="339" rx="12.5" ry="17.5" transform="rotate(-28 164 339)" fill="rgb(204,204,204)" style="mix-blend-mode:lighten"/>
<ellipse cx="165.5" cy="342" rx="8.5" ry="13" transform="rotate(-22 165.5 342)" fill="rgb(245,245,245)"/>
<ellipse cx="121.5" cy="352.5" rx="27" ry="27.5" fill="rgb(79,79,79)"/>
<ellipse cx="121" cy="353" rx="18" ry="19" fill="rgb(43,43,43)"/>
<ellipse cx="121" cy="354" rx="9" ry="9" fill="rgb(33,33,33)"/>
</g><g filter="url(#fp2)">
<rect x="203.2" y="277" width="155.6" height="149.5" fill="rgb(8,8,8)"/>
<ellipse cx="281.5" cy="350.5" rx="70" ry="70" fill="rgb(18,18,18)" filter="url(#bl3)"/>
<ellipse cx="281.5" cy="350.5" rx="65.5" ry="66" fill="rgb(43,43,43)" filter="url(#bl3)"/>
<ellipse cx="281.5" cy="350.5" rx="63" ry="63.5" fill="rgb(69,69,69)"/>
<ellipse cx="281.5" cy="350.5" rx="58" ry="58.5" fill="rgb(128,128,128)"/>
<ellipse cx="281.5" cy="350.5" rx="53" ry="53.5" fill="rgb(158,158,158)"/>
<ellipse cx="281.5" cy="350.5" rx="50" ry="50.5" fill="rgb(189,189,189)"/>
<ellipse cx="281.5" cy="350.5" rx="47" ry="47.5" fill="rgb(209,209,209)"/>
<path d="M252.3,332.4 A35,37 0 0 1 315.8,342.4" fill="none" stroke="rgb(228,228,228)" stroke-width="22" stroke-linecap="round" filter="url(#bl3)"/>
<path d="M263.0,383.2 A37,36 0 0 1 249.5,334.0" fill="none" stroke="rgb(219,219,219)" stroke-width="18" stroke-linecap="round" filter="url(#bl3)"/>
<ellipse cx="287" cy="355" rx="32" ry="26" fill="rgb(184,184,184)" filter="url(#bl3)"/>
<ellipse cx="287" cy="355" rx="28" ry="22" fill="rgb(133,133,133)"/>
<ellipse cx="286" cy="356.5" rx="19" ry="14" fill="rgb(105,105,105)"/>
<ellipse cx="286" cy="357" rx="14" ry="10" fill="rgb(66,66,66)"/>
<ellipse cx="285" cy="357" rx="7" ry="5" fill="rgb(51,51,51)"/>
</g><g filter="url(#fp3)">
<rect x="362" y="277" width="156.3" height="149.5" fill="rgb(9,9,9)"/>
<ellipse cx="437" cy="356" rx="59" ry="52.5" fill="rgb(31,31,31)" filter="url(#bl3)"/>
<ellipse cx="437" cy="356" rx="55" ry="48.5" fill="rgb(36,36,36)" filter="url(#bl3)"/>
<ellipse cx="433" cy="359.4" rx="26" ry="22" fill="rgb(8,8,8)" filter="url(#bl3)"/>
<path d="M464,352 L472,332 L493,360 Z" fill="rgb(76,76,76)" stroke="rgb(76,76,76)" stroke-width="9" stroke-linejoin="round" filter="url(#bl3)"/>
<path d="M466,351 L473,336 L490,358 Z" fill="rgb(128,128,128)" stroke="rgb(128,128,128)" stroke-width="5" stroke-linejoin="round" filter="url(#bl3)"/>
<path d="M470,348 L476,340 L487,355 Z" fill="rgb(191,191,191)" stroke="rgb(191,191,191)" stroke-width="6" stroke-linejoin="round" filter="url(#bl3)"/>
</g><g filter="url(#bl05)"><circle cx="393.2" cy="367.9" r="0.85" fill="#e6e0f0" opacity="0.6"/><circle cx="384.7" cy="370.4" r="0.85" fill="#e6e0f0" opacity="0.45"/><circle cx="454.7" cy="391.8" r="0.85" fill="#e6e0f0" opacity="0.75"/><circle cx="410.9" cy="336.0" r="0.85" fill="#e6e0f0" opacity="0.6"/><circle cx="426.6" cy="382.3" r="0.85" fill="#e6e0f0" opacity="0.75"/><circle cx="405.8" cy="325.1" r="0.85" fill="#e6e0f0" opacity="0.6"/><circle cx="484.5" cy="346.6" r="0.85" fill="#e6e0f0" opacity="0.75"/><circle cx="408.9" cy="322.0" r="0.85" fill="#e6e0f0" opacity="0.75"/><circle cx="464.7" cy="366.2" r="0.85" fill="#e6e0f0" opacity="0.45"/><circle cx="394.5" cy="329.0" r="0.85" fill="#e6e0f0" opacity="0.6"/><circle cx="386.3" cy="373.5" r="0.85" fill="#e6e0f0" opacity="0.75"/><circle cx="440.9" cy="389.1" r="0.85" fill="#e6e0f0" opacity="0.45"/><circle cx="414.6" cy="323.9" r="0.85" fill="#e6e0f0" opacity="0.6"/><circle cx="399.0" cy="378.2" r="0.85" fill="#e6e0f0" opacity="0.45"/><circle cx="426.9" cy="323.3" r="0.85" fill="#e6e0f0" opacity="0.45"/><circle cx="407.2" cy="353.9" r="0.85" fill="#e6e0f0" opacity="0.75"/><circle cx="441.2" cy="320.1" r="0.85" fill="#e6e0f0" opacity="0.6"/><circle cx="393.2" cy="389.3" r="0.85" fill="#e6e0f0" opacity="0.75"/><circle cx="472.3" cy="356.1" r="0.85" fill="#e6e0f0" opacity="0.45"/><circle cx="379.5" cy="365.7" r="0.85" fill="#e6e0f0" opacity="0.6"/><circle cx="396.7" cy="375.6" r="0.85" fill="#e6e0f0" opacity="0.45"/><circle cx="443.6" cy="323.9" r="0.85" fill="#e6e0f0" opacity="0.45"/><circle cx="425.9" cy="380.0" r="0.85" fill="#e6e0f0" opacity="0.6"/><circle cx="438.6" cy="327.4" r="0.85" fill="#e6e0f0" opacity="0.45"/><circle cx="429.2" cy="331.1" r="0.85" fill="#e6e0f0" opacity="0.6"/><circle cx="447.0" cy="327.1" r="0.85" fill="#e6e0f0" opacity="0.75"/><circle cx="453.7" cy="392.1" r="0.85" fill="#e6e0f0" opacity="0.75"/><circle cx="442.1" cy="319.7" r="0.85" fill="#e6e0f0" opacity="0.6"/><circle cx="468.0" cy="380.5" r="0.85" fill="#e6e0f0" opacity="0.45"/><circle cx="492.1" cy="356.1" r="0.85" fill="#e6e0f0" opacity="0.75"/><circle cx="418.4" cy="402.2" r="0.85" fill="#e6e0f0" opacity="0.45"/><circle cx="459.7" cy="403.9" r="0.85" fill="#e6e0f0" opacity="0.75"/><circle cx="416.9" cy="334.1" r="0.85" fill="#e6e0f0" opacity="0.45"/><circle cx="445.4" cy="387.5" r="0.85" fill="#e6e0f0" opacity="0.75"/><circle cx="418.9" cy="385.3" r="0.85" fill="#e6e0f0" opacity="0.45"/><circle cx="468.5" cy="370.0" r="0.85" fill="#e6e0f0" opacity="0.75"/><circle cx="439.1" cy="397.4" r="0.85" fill="#e6e0f0" opacity="0.6"/><circle cx="413.4" cy="336.0" r="0.85" fill="#e6e0f0" opacity="0.75"/><circle cx="390.9" cy="360.2" r="0.85" fill="#e6e0f0" opacity="0.6"/><circle cx="450.8" cy="383.0" r="0.85" fill="#e6e0f0" opacity="0.45"/><circle cx="452.1" cy="326.8" r="0.85" fill="#e6e0f0" opacity="0.45"/><circle cx="463.1" cy="391.4" r="0.85" fill="#e6e0f0" opacity="0.75"/><circle cx="456.0" cy="403.9" r="0.85" fill="#e6e0f0" opacity="0.6"/><circle cx="403.8" cy="333.8" r="0.85" fill="#e6e0f0" opacity="0.45"/><circle cx="471.4" cy="380.7" r="0.85" fill="#e6e0f0" opacity="0.6"/><circle cx="440.7" cy="400.1" r="0.85" fill="#e6e0f0" opacity="0.6"/><circle cx="387.5" cy="379.6" r="0.85" fill="#e6e0f0" opacity="0.6"/><circle cx="427.8" cy="385.0" r="0.85" fill="#e6e0f0" opacity="0.75"/><circle cx="469.5" cy="351.9" r="0.85" fill="#e6e0f0" opacity="0.6"/><circle cx="386.1" cy="338.5" r="0.85" fill="#e6e0f0" opacity="0.75"/><circle cx="468.6" cy="370.0" r="0.85" fill="#e6e0f0" opacity="0.45"/><circle cx="436.8" cy="328.7" r="0.85" fill="#e6e0f0" opacity="0.6"/><circle cx="408.0" cy="365.1" r="0.85" fill="#e6e0f0" opacity="0.45"/><circle cx="428.0" cy="394.8" r="0.85" fill="#e6e0f0" opacity="0.45"/><circle cx="464.8" cy="372.0" r="0.85" fill="#e6e0f0" opacity="0.6"/><circle cx="485.4" cy="350.8" r="0.85" fill="#e6e0f0" opacity="0.75"/><circle cx="380.0" cy="349.0" r="0.85" fill="#e6e0f0" opacity="0.75"/><circle cx="465.8" cy="361.7" r="0.85" fill="#e6e0f0" opacity="0.6"/><circle cx="419.4" cy="307.4" r="0.85" fill="#e6e0f0" opacity="0.45"/><circle cx="411.5" cy="340.1" r="0.85" fill="#e6e0f0" opacity="0.45"/><circle cx="432.3" cy="322.3" r="0.85" fill="#e6e0f0" opacity="0.45"/><circle cx="477.5" cy="374.2" r="0.85" fill="#e6e0f0" opacity="0.75"/><circle cx="492.0" cy="369.9" r="0.85" fill="#e6e0f0" opacity="0.75"/><circle cx="421.8" cy="311.4" r="0.85" fill="#e6e0f0" opacity="0.6"/><circle cx="407.3" cy="391.0" r="0.85" fill="#e6e0f0" opacity="0.45"/><circle cx="465.7" cy="329.5" r="0.85" fill="#e6e0f0" opacity="0.45"/><circle cx="467.3" cy="325.2" r="0.85" fill="#e6e0f0" opacity="0.75"/><circle cx="415.8" cy="325.7" r="0.85" fill="#e6e0f0" opacity="0.45"/><circle cx="412.6" cy="338.5" r="0.85" fill="#e6e0f0" opacity="0.75"/><circle cx="464.5" cy="377.5" r="0.85" fill="#e6e0f0" opacity="0.6"/><circle cx="431.4" cy="320.5" r="0.85" fill="#e6e0f0" opacity="0.75"/><circle cx="422.3" cy="320.7" r="0.85" fill="#e6e0f0" opacity="0.6"/><circle cx="453.6" cy="332.4" r="0.85" fill="#e6e0f0" opacity="0.75"/><circle cx="483.3" cy="363.7" r="0.85" fill="#e6e0f0" opacity="0.6"/><circle cx="494.3" cy="363.1" r="0.85" fill="#e6e0f0" opacity="0.45"/><circle cx="389.5" cy="356.7" r="0.85" fill="#e6e0f0" opacity="0.6"/><circle cx="435.9" cy="381.8" r="0.85" fill="#e6e0f0" opacity="0.6"/><circle cx="466.5" cy="388.7" r="0.85" fill="#e6e0f0" opacity="0.75"/><circle cx="464.3" cy="399.3" r="0.85" fill="#e6e0f0" opacity="0.75"/><circle cx="476.9" cy="339.6" r="0.85" fill="#e6e0f0" opacity="0.45"/><circle cx="414.2" cy="394.2" r="0.85" fill="#e6e0f0" opacity="0.45"/><circle cx="401.6" cy="321.0" r="0.85" fill="#e6e0f0" opacity="0.45"/><circle cx="466.6" cy="331.6" r="0.85" fill="#e6e0f0" opacity="0.75"/><circle cx="468.0" cy="341.2" r="0.85" fill="#e6e0f0" opacity="0.45"/><circle cx="382.8" cy="357.1" r="0.85" fill="#e6e0f0" opacity="0.45"/><circle cx="423.1" cy="306.8" r="0.85" fill="#e6e0f0" opacity="0.6"/><circle cx="451.1" cy="330.4" r="0.85" fill="#e6e0f0" opacity="0.6"/><circle cx="431.4" cy="386.8" r="0.85" fill="#e6e0f0" opacity="0.6"/><circle cx="403.9" cy="382.4" r="0.85" fill="#e6e0f0" opacity="0.75"/><circle cx="415.3" cy="399.8" r="0.85" fill="#e6e0f0" opacity="0.75"/><circle cx="407.1" cy="364.1" r="0.85" fill="#e6e0f0" opacity="0.45"/><circle cx="428.7" cy="397.0" r="0.85" fill="#e6e0f0" opacity="0.75"/><circle cx="425.1" cy="316.7" r="0.85" fill="#e6e0f0" opacity="0.6"/><circle cx="409.8" cy="323.4" r="0.85" fill="#e6e0f0" opacity="0.75"/><circle cx="465.1" cy="384.3" r="0.85" fill="#e6e0f0" opacity="0.45"/><circle cx="441.5" cy="323.7" r="0.85" fill="#e6e0f0" opacity="0.45"/><circle cx="454.0" cy="306.6" r="0.85" fill="#e6e0f0" opacity="0.45"/><circle cx="391.7" cy="369.9" r="0.85" fill="#e6e0f0" opacity="0.75"/><circle cx="411.4" cy="328.8" r="0.85" fill="#e6e0f0" opacity="0.45"/><circle cx="423.0" cy="327.8" r="0.85" fill="#e6e0f0" opacity="0.6"/></g><rect x="44.75" y="277.75" width="154.7" height="148.0" fill="none" stroke="#080808" stroke-width="1.5"/><rect x="203.95" y="277.75" width="154.10000000000002" height="148.0" fill="none" stroke="#080808" stroke-width="1.5"/><rect x="362.75" y="277.75" width="154.79999999999995" height="148.0" fill="none" stroke="#080808" stroke-width="1.5"/><g stroke="#fff" stroke-width="3.6"><line x1="449" y1="291.3" x2="511" y2="291.3"/><line x1="450.2" y1="281.8" x2="450.2" y2="299.5"/><line x1="509.6" y1="281.8" x2="509.6" y2="299.5"/></g><text x="460.5" y="309.4" style="font-family:'Liberation Sans',sans-serif;font-size:18px" fill="#fff">2 cm</text><text x="128" y="422.6" style="font-family:'Liberation Sans',sans-serif;font-size:18px;font-weight:bold;font-style:italic" fill="#fff" textLength="66" lengthAdjust="spacingAndGlyphs">no filter</text><text x="324.2" y="422.3" style="font-family:'Liberation Sans',sans-serif;font-size:25px;font-weight:bold;font-style:italic" fill="#fff" textLength="30.5" lengthAdjust="spacingAndGlyphs">Ar</text><text x="467" y="423.3" style="font-family:'Liberation Sans',sans-serif;font-size:27px;font-weight:bold;font-style:italic" fill="#fff">Ar</text><text x="497" y="411.5" style="font-family:'Liberation Sans',sans-serif;font-size:28px;font-weight:bold" fill="#fff">+</text>
</svg>
</body></html>
